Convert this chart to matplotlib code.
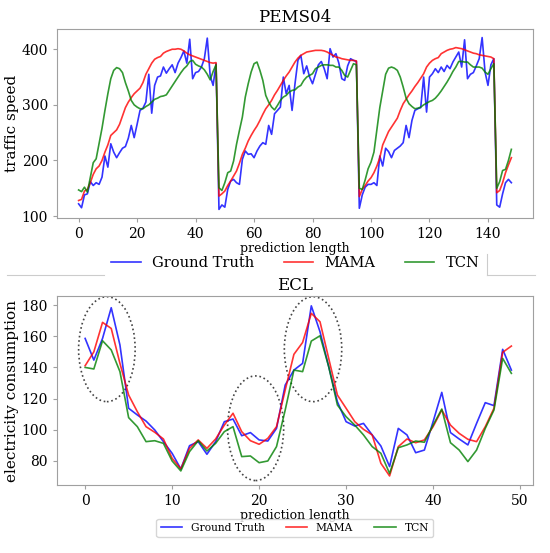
import matplotlib
matplotlib.use("Agg")
import numpy as np
import matplotlib.pyplot as plt
from matplotlib.patches import Ellipse
from matplotlib.lines import Line2D

plt.rcParams['font.family'] = ['DejaVu Serif']

# PEMS04 (prediction length 0..148)
gt_pems = [
    122, 115, 138, 140, 162, 155, 160, 157, 170, 208,
    188, 230, 215, 205, 214, 222, 225, 240, 263, 241,
    265, 290, 294, 305, 355, 285, 335, 350, 352, 368,
    357, 365, 372, 358, 375, 385, 397, 375, 418, 347,
    358, 360, 368, 383, 420, 352, 335, 374,
    112, 120, 116, 148, 163, 166, 160, 157, 202, 217,
    211, 212, 205, 217, 226, 232, 229, 263, 247, 284,
    290, 296, 350, 320, 335, 290, 338, 380, 389, 356,
    370, 350, 338, 355, 372, 378, 365, 347, 401, 386,
    392, 375, 347, 344, 370, 383, 380, 378,
    114, 138, 152, 157, 157, 160, 155, 208, 190, 222,
    216, 205, 218, 222, 226, 232, 263, 241, 272, 290,
    293, 295, 350, 287, 350, 356, 365, 358, 368, 360,
    371, 365, 377, 386, 395, 368, 417, 347, 355, 358,
    370, 383, 421, 359, 335, 372, 383,
    120, 116, 140, 160, 166, 160,
]
mama_pems = [
    128, 130, 145, 148, 160, 175, 185, 190, 200, 215,
    228, 245, 250, 255, 265, 280, 295, 305, 313, 320,
    325, 330, 340, 355, 365, 375, 382, 385, 387, 393,
    396, 398, 400, 400, 401, 400, 397, 393, 390, 388,
    386, 384, 382, 380, 378, 376, 375, 376,
    136, 140, 145, 155, 163, 172, 181, 195, 211, 222,
    235, 245, 254, 262, 272, 283, 293, 300, 308, 318,
    326, 335, 344, 352, 359, 368, 377, 384, 389, 392,
    395, 396, 397, 398, 398, 398, 397, 395, 392, 389,
    386, 385, 383, 382, 381, 380, 380, 379,
    135, 148, 155, 163, 169, 178, 190, 205, 228, 240,
    252, 260, 268, 276, 290, 302, 310, 318, 325, 333,
    340, 348, 356, 368, 375, 380, 383, 385, 392, 395,
    398, 400, 401, 403, 402, 401, 399, 397, 395, 393,
    392, 390, 389, 388, 387, 386, 383,
    142, 146, 160, 178, 192, 205,
]
tcn_pems = [
    147, 144, 152, 143, 170, 196, 203, 230, 258, 290,
    320, 347, 362, 367, 365, 358, 340, 325, 308, 300,
    296, 293, 293, 297, 300, 305, 310, 312, 315, 316,
    318, 326, 334, 342, 350, 358, 365, 370, 378, 380,
    373, 370, 368, 363, 355, 345, 360, 372,
    151, 146, 160, 178, 181, 199, 229, 254, 278, 314,
    338, 359, 374, 377, 362, 344, 317, 305, 296, 291,
    299, 308, 314, 317, 323, 326, 327, 332, 335, 344,
    350, 353, 356, 365, 368, 371, 372, 372, 371, 371,
    368, 368, 362, 353, 350, 362, 374, 372,
    150, 148, 165, 185, 197, 215, 255, 295, 325, 355,
    366, 368, 366, 362, 350, 332, 312, 302, 297, 293,
    294, 296, 300, 303, 306, 308, 312, 318, 325, 333,
    341, 350, 360, 368, 378, 378, 377, 377, 372, 368,
    368, 368, 366, 359, 355, 365, 374,
    150, 162, 182, 184, 200, 220,
]

# ECL (prediction length 0..49)
gt_ecl = [
    158.6, 144.7, 158.6, 178.3, 154.4, 113.8, 109.5, 105.6, 99.9, 92.4,
    84.9, 74.9, 89.8, 92.4, 84.3, 92.4, 105.2, 106.9, 96.2, 98.2,
    93.5, 92.8, 100.9, 128.7, 138.3, 142.6, 179.5, 162.9, 140.5, 118.0,
    105.2, 102.4, 104.1, 96.7, 89.6, 76.4, 100.9, 96.7, 85.3, 87.0,
    105.2, 124.0, 98.2, 94.1, 90.3, 104.1, 117.4, 115.5, 151.6, 138.3,
]
mama_ecl = [
    141.1, 150.0, 168.9, 165.0, 142.6, 122.3, 111.6, 102.0, 98.4, 94.1,
    81.7, 74.9, 88.1, 93.5, 88.1, 94.1, 103.0, 110.6, 98.8, 93.0,
    90.7, 94.5, 102.0, 125.5, 148.4, 156.0, 174.7, 169.3, 145.8, 122.3,
    113.8, 105.2, 100.3, 96.7, 78.5, 70.4, 89.2, 94.1, 91.7, 93.5,
    102.0, 112.7, 103.0, 97.7, 93.9, 92.4, 102.0, 113.8, 149.7, 153.7,
]
tcn_ecl = [
    140.0, 139.0, 157.1, 151.2, 137.3, 107.8, 102.0, 92.4, 93.0, 91.3,
    80.0, 73.6, 86.0, 93.0, 86.4, 91.3, 98.8, 102.0, 82.8, 83.2,
    78.9, 80.0, 89.2, 112.7, 138.3, 137.3, 156.9, 160.3, 140.5, 115.9,
    108.4, 103.0, 96.7, 89.2, 84.9, 72.0, 88.5, 90.3, 92.8, 92.0,
    103.0, 113.3, 91.7, 87.0, 79.6, 87.0, 100.9, 112.7, 145.8, 136.2,
]
# highlighted regions: (center x, center y, width, height)
circles = [(2.5, 151.7, 6.5, 67.3), (19.6, 101.0, 6.45, 67.1), (26.2, 151.7, 6.6, 67.3)]

labels = ['Ground Truth', 'MAMA', 'TCN']
colors = ['blue', 'red', 'green']

fig = plt.figure(figsize=(5.5, 5.53), dpi=100)
ax1 = fig.add_axes([0.1036, 0.6058, 0.8655, 0.3418])
ax2 = fig.add_axes([0.1036, 0.1230, 0.8655, 0.3417])


def style_axes(ax):
    for s in ax.spines.values():
        s.set_color('#a0a0a0')
    ax.tick_params(labelsize=10, length=3, color='#a0a0a0')


x1 = np.arange(len(gt_pems))
lines = []
for ys, c in zip([gt_pems, mama_pems, tcn_pems], colors):
    ln, = ax1.plot(x1, ys, color=c, lw=1.2, alpha=0.8)
    lines.append(ln)
ax1.set_title('PEMS04', fontsize=12, pad=5)
ax1.set_xlabel('prediction length', fontsize=9, labelpad=1)
ax1.set_ylabel('traffic speed', fontsize=11, labelpad=2)
ax1.set_xticks(np.arange(0, 141, 20))
style_axes(ax1)

fig.legend(lines, labels, loc='center', bbox_to_anchor=(0.537, 0.5244),
           ncol=3, fontsize=10.5, frameon=False)
# leftover frame lines around the upper legend
sep = '#cccccc'
fig.add_artist(Line2D([0.0127, 0.189], [0.5027, 0.5027], color=sep, lw=0.8))
fig.add_artist(Line2D([0.8855, 0.9727], [0.5027, 0.5027], color=sep, lw=0.8))
fig.add_artist(Line2D([0.8855, 0.8855], [0.5027, 0.5407], color=sep, lw=0.8))

x2 = np.arange(len(gt_ecl))
for ys, c, lab in zip([gt_ecl, mama_ecl, tcn_ecl], colors, labels):
    ax2.plot(x2, ys, color=c, lw=1.2, alpha=0.8, label=lab)
for cx, cy, w, h in circles:
    ax2.add_patch(Ellipse((cx, cy), w, h, fill=False, ls=':', lw=1.2, ec='#444444'))
ax2.set_ylim(64.6, 185.8)
ax2.set_title('ECL', fontsize=12, pad=4)
ax2.set_xlabel('prediction length', fontsize=9, labelpad=1)
ax2.set_ylabel('electricity consumption', fontsize=11, labelpad=2)
ax2.set_yticks(np.arange(80, 181, 20))
style_axes(ax2)
ax2.legend(loc='center', bbox_to_anchor=(0.536, 0.0452), bbox_transform=fig.transFigure,
           ncol=3, fontsize=7.7)

fig.savefig('out.png', dpi=100)
